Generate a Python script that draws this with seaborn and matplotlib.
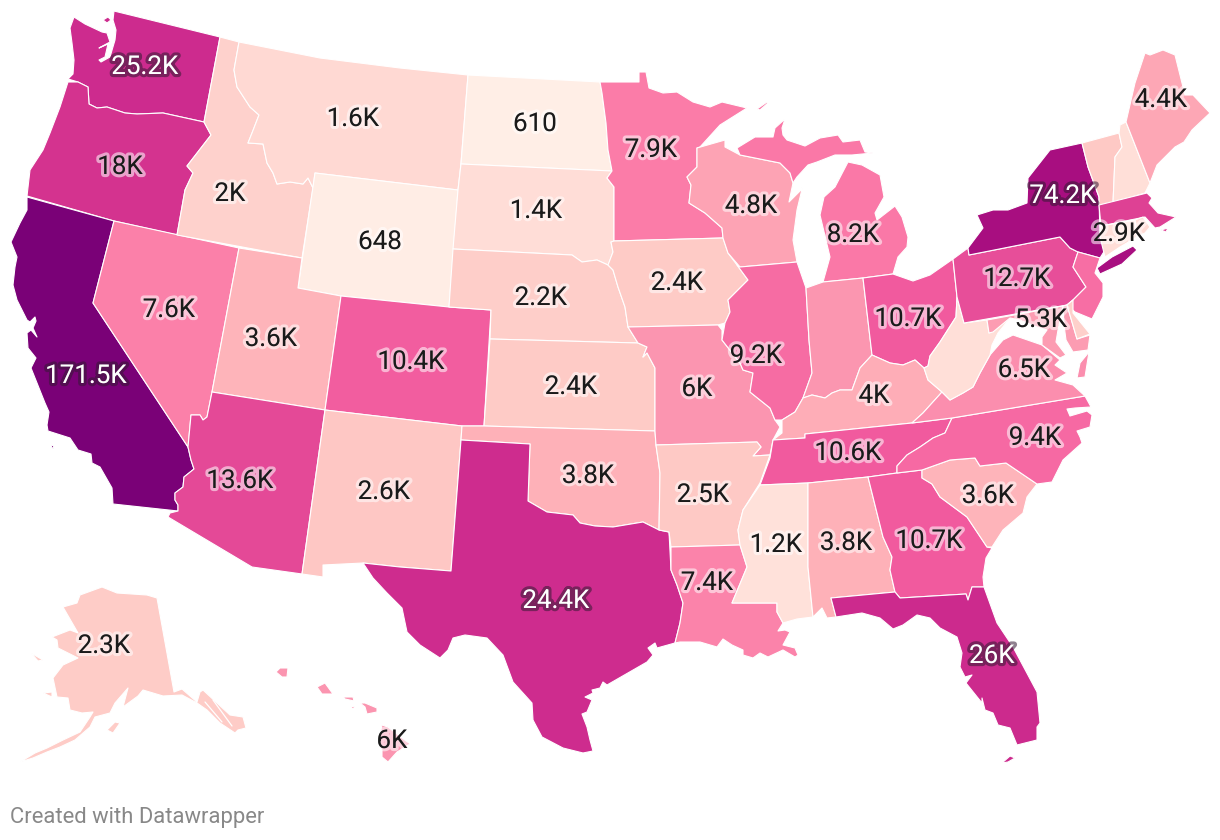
import numpy as np
import matplotlib
matplotlib.use('Agg')
import matplotlib.pyplot as plt
import matplotlib.patheffects as pe
import seaborn as sns

sns.set_theme(style='white')
plt.rcParams['font.family'] = ['Roboto', 'DejaVu Sans']

# state, shade value, printed label (None = too small for a label)
states = ['WA', 'OR', 'CA', 'NV', 'ID', 'MT', 'WY', 'UT', 'AZ', 'CO', 'NM', 'ND', 'SD', 'NE', 'KS', 'OK', 'TX',
          'MN', 'IA', 'MO', 'AR', 'LA', 'WI', 'IL', 'MI', 'IN', 'OH', 'KY', 'TN', 'MS', 'AL', 'GA', 'FL', 'SC',
          'NC', 'VA', 'WV', 'PA', 'NY', 'VT', 'NH', 'ME', 'MA', 'CT', 'RI', 'NJ', 'MD', 'DE', 'AK', 'HI']
values = [25200, 18000, 171500, 7600, 2000, 1600, 648, 3600, 13600, 10400, 2600, 610, 1400, 2200, 2400, 3800, 24400,
          7900, 2400, 6000, 2500, 7400, 4800, 9200, 8200, 5900, 10700, 4000, 10600, 1200, 3800, 10700, 26000, 3600,
          9400, 6500, 1300, 12700, 74200, 2500, 1300, 4400, 15000, 1400, 1500, 9000, 5300, 2100, 2300, 6000]
labels = ['25.2K', '18K', '171.5K', '7.6K', '2K', '1.6K', '648', '3.6K', '13.6K', '10.4K', '2.6K', '610', '1.4K',
          '2.2K', '2.4K', '3.8K', '24.4K', '7.9K', '2.4K', '6K', '2.5K', '7.4K', '4.8K', '9.2K', '8.2K', None,
          '10.7K', '4K', '10.6K', '1.2K', '3.8K', '10.7K', '26K', '3.6K', '9.4K', '6.5K', None, '12.7K', '74.2K',
          None, None, '4.4K', None, '2.9K', None, None, '5.3K', None, '2.3K', '6K']
label_x = [145, 120, 86, 169, 230, 353, 380, 271, 240, 411, 384, 535, 536, 541, 571, 588, 556,
           651, 677, 697, 703, 707, 751, 756, 853, 0, 908, 874, 848, 776, 846, 929, 992, 988,
           1035, 1024, 0, 1017, 1063, 0, 0, 1161, 0, 1119, 0, 0, 1041, 0, 104, 392]
label_y = [67, 167, 376, 310, 194, 119, 242, 339, 481, 362, 492, 124, 211, 298, 387, 476, 601,
           150, 283, 389, 495, 583, 206, 356, 235, 0, 319, 396, 453, 545, 543, 541, 656, 496,
           438, 370, 0, 279, 196, 0, 0, 100, 0, 234, 0, 0, 320, 0, 646, 741]
light_labels = ['25.2K', '171.5K', '74.2K', '24.4K', '26K']

# colour scale: value stops on a log axis
stops = [610, 1400, 2400, 3800, 6000, 7900, 10500, 18000, 25000, 74000, 171500]
stop_colors = ['#ffeee6', '#ffddd7', '#fecbc6', '#feb0b8', '#fb95b0', '#fb7da8', '#f25c9f',
               '#d4338f', '#cd2b8e', '#a90e80', '#7a0177']
cmap = sns.blend_palette(stop_colors, n_colors=256, as_cmap=True)

# state outlines in pixels
outlines = {
    'WA': [[(114, 11), (220, 37), (204, 122), (163, 113), (137, 114), (125, 113), (107, 107), (97, 108), (89, 104),
            (88, 87), (78, 82), (68, 79), (73, 74), (74, 60), (72, 43), (70, 28), (74, 17), (85, 24), (102, 32),
            (107, 33), (110, 42), (99, 48), (108, 44), (105, 57), (99, 60), (101, 62), (110, 57), (115, 40),
            (116, 30), (113, 20)],
           [(103, 20), (108, 17), (111, 20), (107, 23)]],
    'OR': [[(68, 82), (78, 82), (88, 87), (89, 104), (97, 108), (107, 107), (125, 113), (137, 114), (163, 113),
            (204, 122), (211, 135), (187, 166), (193, 173), (185, 190), (177, 235), (114, 221), (27, 196), (30, 170),
            (43, 150), (50, 133), (60, 107)]],
    'CA': [[(27, 197), (114, 221), (93, 303), (188, 447), (191, 460), (194, 469), (184, 477), (183, 487), (175, 493),
            (175, 500), (178, 505), (178, 511), (113, 504), (112, 488), (100, 467), (92, 463), (91, 454), (78, 450),
            (70, 438), (48, 431), (47, 425), (49, 412), (45, 403), (37, 383), (31, 368), (36, 358), (28, 348),
            (27, 333), (31, 330), (37, 337), (33, 328), (36, 321), (35, 317), (30, 322), (27, 320), (22, 310),
            (17, 300), (13, 285), (15, 267), (17, 257), (11, 242), (20, 223), (27, 210)],
           [(51, 446), (54, 445), (53, 449)]],
    'NV': [[(114, 221), (239, 248), (212, 392), (207, 417), (203, 420), (200, 415), (191, 415), (188, 447), (93, 303)]],
    'ID': [[(220, 37), (239, 42), (234, 70), (237, 87), (250, 107), (259, 115), (252, 133), (248, 143), (263, 144),
            (267, 163), (273, 173), (277, 184), (290, 182), (303, 184), (308, 178), (313, 188), (302, 258), (177, 235),
            (185, 190), (193, 173), (187, 166), (211, 135), (204, 122)]],
    'MT': [[(239, 42), (320, 58), (400, 68), (468, 75), (461, 163), (458, 190), (315, 173), (313, 188), (308, 178),
            (303, 184), (290, 182), (277, 184), (273, 173), (267, 163), (263, 144), (248, 143), (252, 133), (259, 115),
            (250, 107), (237, 87), (234, 70)]],
    'WY': [[(315, 173), (458, 190), (449, 307), (341, 296), (298, 288)]],
    'UT': [[(239, 248), (302, 258), (298, 288), (341, 296), (325, 410), (212, 392)]],
    'AZ': [[(212, 392), (325, 410), (302, 574), (252, 567), (168, 517), (170, 513), (178, 511), (178, 505), (175, 500),
            (175, 493), (183, 487), (184, 477), (194, 469), (191, 460), (188, 447), (191, 415), (200, 415), (203, 420),
            (207, 417)]],
    'CO': [[(341, 296), (449, 307), (491, 310), (484, 426), (462, 426), (325, 410)]],
    'NM': [[(325, 410), (462, 426), (461, 440), (451, 571), (400, 567), (363, 563), (323, 565), (323, 577), (302, 574)]],
    'ND': [[(468, 75), (600, 82), (602, 93), (606, 123), (608, 150), (612, 171), (461, 164)]],
    'SD': [[(461, 164), (612, 171), (607, 178), (614, 187), (614, 242), (611, 242), (613, 252), (609, 263), (608, 265),
            (597, 260), (582, 262), (572, 255), (453, 249), (458, 190)]],
    'NE': [[(453, 249), (572, 255), (582, 262), (597, 260), (608, 265), (613, 270), (618, 287), (625, 307), (628, 327),
            (638, 343), (490, 339), (491, 310), (449, 307)]],
    'KS': [[(490, 339), (638, 343), (647, 347), (643, 357), (647, 353), (655, 368), (655, 431), (484, 426)]],
    'OK': [[(462, 426), (484, 426), (655, 431), (656, 445), (660, 473), (659, 530), (643, 522), (613, 527), (595, 526),
            (580, 523), (573, 515), (547, 512), (528, 501), (530, 444), (461, 440)]],
    'TX': [[(461, 440), (530, 444), (528, 501), (547, 512), (573, 515), (580, 523), (595, 526), (613, 527), (643, 522),
            (659, 530), (669, 532), (671, 570), (677, 585), (683, 603), (680, 623), (675, 643), (657, 648), (655, 643),
            (648, 648), (653, 655), (647, 662), (607, 685), (603, 682), (600, 688), (592, 690), (593, 693), (585, 697),
            (592, 700), (587, 712), (582, 714), (587, 727), (590, 740), (593, 751), (583, 753), (563, 748), (542, 737),
            (533, 720), (532, 703), (513, 682), (503, 655), (487, 638), (465, 635), (453, 638), (448, 650), (440, 658),
            (420, 645), (407, 632), (402, 608), (387, 593), (373, 578), (363, 563), (400, 567), (451, 571)]],
    'MN': [[(600, 82), (639, 82), (639, 72), (646, 72), (649, 88), (663, 93), (677, 92), (693, 102), (710, 107), (722, 102),
            (747, 108), (720, 125), (700, 147), (697, 148), (697, 167), (687, 177), (691, 185), (689, 203), (705, 213),
            (722, 228), (723, 238), (614, 241), (614, 187), (607, 178), (612, 171), (608, 150), (606, 123), (602, 93)]],
    'IA': [[(611, 242), (614, 241), (723, 238), (728, 253), (737, 265), (748, 280), (728, 300), (730, 312), (725, 323),
            (718, 325), (628, 327), (625, 307), (618, 287), (613, 270), (608, 265), (613, 252)]],
    'MO': [[(628, 327), (718, 325), (722, 330), (722, 340), (740, 363), (743, 370), (753, 373), (750, 392), (760, 400),
            (770, 408), (775, 420), (780, 427), (773, 440), (770, 455), (753, 456), (761, 447), (757, 442), (656, 445),
            (655, 431), (655, 368), (647, 353), (643, 357), (647, 347), (638, 343)]],
    'AR': [[(656, 445), (757, 442), (761, 447), (753, 456), (770, 455), (760, 483), (743, 510), (738, 530), (740, 545),
            (671, 547), (669, 532), (659, 530), (660, 473)]],
    'LA': [[(671, 547), (740, 545), (747, 567), (732, 603), (777, 603), (777, 612), (783, 623), (778, 631), (785, 630),
            (790, 632), (783, 645), (795, 648), (798, 655), (795, 657), (783, 650), (768, 657), (760, 653), (753, 658),
            (743, 655), (743, 650), (732, 645), (723, 639), (717, 647), (700, 642), (680, 642), (675, 643), (680, 623),
            (683, 603), (677, 585), (671, 570)]],
    'WI': [[(697, 148), (725, 140), (725, 147), (740, 155), (780, 163), (790, 173), (793, 183), (789, 202), (801, 190),
            (803, 185), (797, 210), (793, 240), (797, 262), (740, 267), (728, 253), (723, 238), (722, 228), (705, 213),
            (689, 203), (691, 185), (687, 177), (697, 167)]],
    'IL': [[(740, 267), (797, 262), (806, 288), (809, 340), (812, 373), (803, 398), (795, 412), (782, 420), (775, 420),
            (770, 408), (760, 400), (750, 392), (753, 373), (743, 370), (740, 363), (722, 340), (725, 323), (730, 312),
            (728, 300), (748, 280), (737, 265)]],
    'MI': [[(737, 148), (755, 137), (773, 137), (775, 128), (785, 119), (782, 128), (783, 135), (787, 140), (805, 146),
            (820, 138), (838, 135), (843, 142), (860, 140), (865, 152), (873, 153), (852, 155), (835, 155), (817, 162),
            (808, 165), (797, 177), (793, 183), (790, 173), (780, 163), (740, 155)],
           [(824, 197), (835, 187), (848, 162), (862, 165), (880, 175), (884, 197), (875, 213), (877, 220), (895, 206),
            (902, 217), (908, 237), (907, 247), (898, 257), (893, 274), (863, 278), (823, 282), (830, 257), (820, 215)],
           [(757, 109), (767, 102), (768, 103), (760, 110)]],
    'IN': [[(806, 288), (823, 282), (863, 278), (872, 355), (860, 368), (852, 390), (840, 390), (832, 393), (825, 398),
            (812, 395), (803, 398), (812, 373), (809, 340)]],
    'OH': [[(863, 278), (893, 274), (913, 281), (930, 275), (953, 259), (957, 297), (956, 317), (940, 342), (930, 356),
            (928, 366), (924, 368), (915, 360), (903, 365), (890, 363), (872, 355)]],
    'KY': [[(773, 440), (782, 433), (782, 420), (795, 412), (803, 398), (812, 395), (825, 398), (832, 393), (840, 390),
            (852, 390), (860, 368), (872, 355), (890, 363), (903, 365), (915, 360), (924, 368), (928, 380), (942, 392),
            (923, 413), (912, 423), (805, 434), (805, 438)]],
    'TN': [[(773, 440), (805, 438), (805, 434), (912, 423), (952, 418), (945, 433), (933, 438), (920, 447), (907, 455),
            (897, 466), (897, 473), (868, 477), (808, 483), (760, 485), (770, 458)]],
    'MS': [[(760, 485), (808, 483), (808, 567), (813, 617), (797, 619), (783, 623), (777, 612), (777, 603), (732, 603),
            (747, 567), (740, 545), (738, 530), (743, 510)]],
    'AL': [[(808, 483), (868, 477), (883, 537), (892, 557), (890, 570), (895, 592), (831, 598), (836, 617), (827, 618),
            (822, 608), (813, 617), (808, 567)]],
    'GA': [[(868, 477), (897, 473), (922, 470), (922, 478), (932, 484), (940, 497), (967, 517), (977, 532), (987, 547),
            (992, 548), (986, 558), (983, 577), (984, 587), (972, 587), (968, 600), (966, 594), (900, 598), (895, 592),
            (890, 570), (892, 557), (883, 537)]],
    'FL': [[(831, 598), (895, 592), (900, 598), (966, 594), (968, 600), (972, 587), (984, 587), (997, 623), (1013, 647),
            (1037, 692), (1040, 723), (1037, 727), (1037, 740), (1017, 745), (1010, 728), (998, 725), (993, 713), (985, 710),
            (982, 698), (982, 703), (966, 683), (972, 675), (965, 677), (960, 667), (962, 653), (957, 637), (940, 628),
            (930, 618), (917, 615), (903, 625), (893, 629), (880, 618), (862, 613), (836, 617)],
           [(1002, 763), (1010, 756), (1015, 758), (1008, 762)]],
    'SC': [[(922, 470), (950, 460), (975, 458), (980, 466), (1006, 463), (1037, 484), (1027, 497), (1023, 513), (1003, 530),
            (992, 547), (987, 547), (977, 532), (967, 517), (940, 497), (932, 484), (922, 478)]],
    'NC': [[(952, 418), (1085, 396), (1091, 407), (1075, 408), (1067, 409), (1070, 416), (1087, 411), (1092, 415), (1090, 427),
            (1077, 431), (1080, 437), (1082, 443), (1063, 460), (1052, 482), (1037, 484), (1006, 463), (980, 466), (975, 458),
            (950, 460), (922, 470), (897, 473), (897, 466), (907, 455), (920, 447), (933, 438), (945, 433)]],
    'VA': [[(912, 423), (923, 413), (942, 392), (950, 400), (963, 393), (973, 387), (980, 373), (990, 355), (1003, 340),
            (1013, 335), (1042, 345), (1060, 360), (1055, 365), (1067, 373), (1055, 380), (1073, 385), (1085, 396), (952, 418)],
           [(1077, 378), (1080, 363), (1089, 352), (1085, 377)]],
    'WV': [[(957, 297), (964, 323), (987, 320), (989, 333), (1010, 318), (998, 333), (992, 345), (990, 355), (980, 373),
            (973, 387), (963, 393), (950, 400), (942, 392), (928, 380), (924, 368), (928, 366), (930, 356), (940, 342), (956, 317)]],
    'PA': [[(953, 259), (968, 248), (969, 255), (1060, 237), (1070, 248), (1078, 252), (1073, 267), (1086, 287), (1073, 300),
            (1067, 305), (964, 323), (957, 297)]],
    'NY': [[(968, 248), (983, 228), (977, 215), (993, 210), (1008, 210), (1027, 203), (1028, 178), (1050, 150), (1082, 143),
            (1088, 167), (1099, 197), (1100, 237), (1105, 250), (1100, 258), (1078, 252), (1070, 248), (1060, 237), (969, 255)],
           [(1097, 268), (1112, 257), (1133, 246), (1137, 250), (1122, 264), (1100, 274)]],
    'VT': [[(1082, 143), (1119, 133), (1122, 147), (1115, 157), (1113, 203), (1099, 205), (1099, 197), (1088, 167)]],
    'NH': [[(1120, 125), (1126, 122), (1150, 183), (1145, 193), (1113, 203), (1115, 157), (1122, 147), (1119, 133)]],
    'ME': [[(1126, 122), (1135, 83), (1145, 53), (1150, 55), (1163, 50), (1175, 55), (1185, 95), (1193, 95), (1210, 113),
            (1192, 130), (1184, 142), (1175, 147), (1157, 165), (1150, 183)]],
    'MA': [[(1099, 205), (1147, 193), (1152, 198), (1149, 203), (1158, 213), (1176, 217), (1160, 227), (1155, 228), (1145, 217),
            (1101, 226)],
           [(1161, 230), (1168, 228), (1166, 232)]],
    'CT': [[(1101, 226), (1135, 220), (1137, 237), (1120, 247), (1105, 257), (1100, 237)]],
    'RI': [[(1135, 220), (1143, 217), (1150, 227), (1145, 233), (1137, 237)]],
    'NJ': [[(1078, 252), (1100, 258), (1095, 273), (1103, 283), (1103, 297), (1092, 319), (1075, 312), (1067, 305), (1073, 300),
            (1086, 287), (1073, 267)]],
    'MD': [[(987, 320), (1063, 306), (1058, 330), (1056, 342), (1066, 355), (1060, 358), (1042, 345), (1042, 337), (1047, 330),
            (1037, 327), (1020, 320), (1010, 318), (993, 332), (989, 333)],
           [(1063, 306), (1067, 305), (1077, 339), (1090, 335), (1088, 350), (1073, 352), (1066, 340), (1064, 325)]],
    'DE': [[(1067, 305), (1073, 300), (1073, 313), (1090, 334), (1077, 339)]],
    'AK': [[(157, 598), (174, 692), (182, 689), (197, 702), (200, 692), (203, 690), (230, 715), (243, 717), (246, 728), (238, 730),
            (235, 733), (220, 723), (207, 710), (197, 703), (182, 695), (163, 696), (143, 690), (138, 696), (123, 707), (128, 688),
            (115, 703), (110, 713), (95, 717), (90, 727), (75, 740), (60, 747), (47, 752), (33, 758), (20, 762), (35, 753), (47, 748),
            (63, 740), (80, 732), (90, 717), (93, 712), (82, 713), (70, 710), (68, 698), (57, 697), (53, 678), (63, 665), (78, 658),
            (58, 648), (57, 640), (52, 637), (70, 630), (78, 633), (63, 607), (77, 603), (80, 595), (102, 587), (117, 593), (147, 595)],
           [(107, 730), (115, 722), (120, 723), (113, 733)],
           [(31, 653), (43, 660), (38, 661)],
           [(43, 693), (52, 692), (52, 697)]],
    'HI': [[(276, 672), (280, 668), (288, 668), (287, 677), (282, 677)],
           [(317, 687), (325, 683), (333, 694), (322, 694)],
           [(343, 697), (353, 697), (354, 701), (345, 699)],
           [(350, 706), (355, 707), (353, 709)],
           [(360, 703), (365, 703), (377, 708), (377, 712), (367, 714), (365, 707)],
           [(382, 725), (388, 727), (410, 744), (397, 752), (388, 762), (382, 757), (382, 750), (378, 743)]],
}

fig, ax = plt.subplots(figsize=(12.2, 8.4), dpi=100)
fig.subplots_adjust(0, 0, 1, 1)
ax.set_xlim(0, 1220)
ax.set_ylim(840, 0)
ax.axis('off')

log_stops = np.log(stops)
positions = np.linspace(0, 1, len(stops))
for name, value in zip(states, values):
    shade = cmap(np.interp(np.log(value), log_stops, positions))
    for part in outlines[name]:
        xs, ys = zip(*part)
        ax.fill(xs, ys, facecolor=shade, edgecolor='white', linewidth=0.8, joinstyle='round')

# a few inlets on the Alaska panhandle
for (x0, y0), (x1, y1) in [((205, 702), (222, 722)), ((213, 700), (232, 726)), ((200, 708), (218, 722))]:
    ax.plot([x0, x1], [y0, y1], color='white', lw=0.9)

for text, x, y in zip(labels, label_x, label_y):
    if text is None:
        continue
    if text in light_labels:
        color, halo = 'white', (0.2, 0.1, 0.2, 0.55)
    else:
        color, halo = '#1a1a1a', (1, 1, 1, 0.55)
    ax.text(x, y, text, ha='center', va='center', fontsize=18.7, color=color,
            path_effects=[pe.withStroke(linewidth=4.5, foreground=halo)])

ax.text(10, 818, 'Created with Datawrapper', ha='left', va='center', fontsize=15.8, color='#888888')

plt.savefig('out.png', dpi=100)
